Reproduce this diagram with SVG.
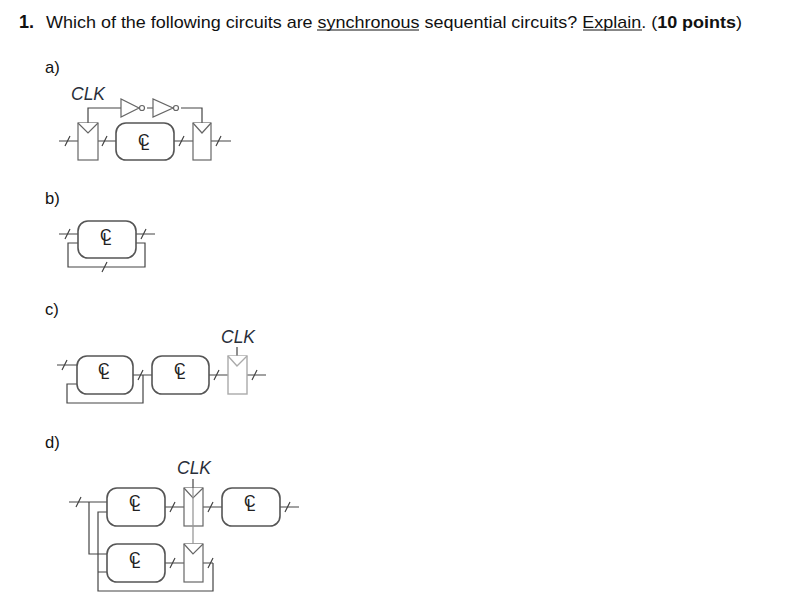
<svg xmlns="http://www.w3.org/2000/svg" width="790" height="602" viewBox="0 0 790 602">
<style>
text{font-family:"Liberation Sans",Arial,sans-serif;fill:#111}
.t{font-size:16.6px}
.clk{font-size:17.5px;font-style:italic;fill:#2a2f3a}
.cl{font-size:16px;fill:#222}
.box,.ff,.tri{fill:#fff;stroke:#666;stroke-width:1.2}
.box{stroke:#555;stroke-width:1.6}
.ffg{fill:#fff;stroke:#aaa;stroke-width:1.4}
.w{fill:none;stroke:#444;stroke-width:1.2}
.g{fill:none;stroke:#999;stroke-width:1.3}
.u{stroke:#111;stroke-width:1}
</style>
<rect width="790" height="602" fill="#fff"/>
<g id="question">
<text class="t" x="19" y="28" font-weight="bold" style="font-size:18px">1.</text>
<text class="t" x="46" y="28" textLength="696" lengthAdjust="spacingAndGlyphs">Which of the following circuits are synchronous sequential circuits? Explain. (<tspan font-weight="bold">10 points</tspan>)</text>
<line class="u" x1="317" y1="30" x2="419" y2="30"/>
<line class="u" x1="583" y1="30" x2="642" y2="30"/>
</g>
<g id="labels">
<text class="t" x="45" y="73">a)</text>
<text class="t" x="45" y="204">b)</text>
<text class="t" x="45" y="315">c)</text>
<text class="t" x="45" y="448">d)</text>
<text class="clk" x="71" y="100">CLK</text>
<text class="clk" x="221" y="343">CLK</text>
<text class="clk" x="177" y="474">CLK</text>
</g>
<g id="connectors">
<path class="w" d="M59 141H78M98 141H116M174 141H193M211 141H231M88 123V108H121M147 108H153M181 108H202V123"/>
<path class="w" d="M65 146l5-10M102 146l5-10M179 146l5-10M216 146l5-10"/>
<path class="w" d="M59 234H78M136 234H155M136 243H145V267H68V243H78"/>
<path class="w" d="M65 239l5-10M141 239l5-10M102 272l5-10"/>
<path class="w" d="M57 365H77M133 375H152M209 375H228M247 375H266M77 384H67V403H143V375M237 347V356"/>
<path class="w" d="M62 370l5-10M138 380l5-10M214 380l5-10M252 380l5-10"/>
<path class="w" d="M69 502H107M89 502V554H107M107 512H98V591H213V563M98 572H107M165 507H184M203 507H222M280 507H299M165 563H184M203 563H213"/>
<path class="w" d="M76 507l5-10M170 512l5-10M208 512l5-10M285 512l5-10M170 568l5-10M208 568l5-10"/>
<path class="w" d="M193 479V488"/>
</g>
<g id="a-ff1"><rect class="ff" x="78" y="123" width="20" height="37"/><path class="ff" d="M78 123L88 133L98 123"/></g>
<g id="a-cl"><rect class="box" x="116" y="123" width="58" height="37" rx="10"/><text class="cl" x="138" y="146">C<tspan dx="-9" dy="4">L</tspan></text></g>
<g id="a-ff2"><rect class="ff" x="193" y="123" width="18" height="37"/><path class="ff" d="M193 123L202 133L211 123"/></g>
<g id="a-inv1"><path class="tri" d="M121 99V117L139 108Z"/><circle class="tri" cx="142" cy="108" r="2.5"/></g>
<g id="a-inv2"><path class="tri" d="M153 99V117L173 108Z"/><circle class="tri" cx="176" cy="108" r="2.5"/></g>
<g id="b-cl"><rect class="box" x="78" y="221" width="58" height="37" rx="10"/><text class="cl" x="100" y="241">C<tspan dx="-9" dy="4">L</tspan></text></g>
<g id="c-cl1"><rect class="box" x="77" y="356" width="56" height="38" rx="10"/><text class="cl" x="98" y="375">C<tspan dx="-9" dy="4">L</tspan></text></g>
<g id="c-cl2"><rect class="box" x="152" y="356" width="57" height="38" rx="10"/><text class="cl" x="174" y="375">C<tspan dx="-9" dy="4">L</tspan></text></g>
<g id="c-ff"><rect class="ffg" x="228" y="356" width="19" height="38"/><path class="ffg" d="M228 356L237 366L247 356"/></g>
<g id="d-cl1"><rect class="box" x="107" y="488" width="58" height="38" rx="10"/><text class="cl" x="129" y="507">C<tspan dx="-9" dy="4">L</tspan></text></g>
<g id="d-ff1"><rect class="ff" x="184" y="488" width="19" height="38"/><path class="ff" d="M184 488L193 498L203 488"/></g>
<g id="d-cl3"><rect class="box" x="222" y="488" width="58" height="38" rx="10"/><text class="cl" x="244" y="507">C<tspan dx="-9" dy="4">L</tspan></text></g>
<g id="d-cl2"><rect class="box" x="107" y="544" width="58" height="38" rx="10"/><text class="cl" x="129" y="564">C<tspan dx="-9" dy="4">L</tspan></text></g>
<g id="d-ff2"><rect class="ff" x="184" y="544" width="19" height="38"/><path class="ff" d="M184 544L193 554L203 544"/></g>
<g id="d-clock"><path class="g" d="M193 488V544"/></g>
</svg>
